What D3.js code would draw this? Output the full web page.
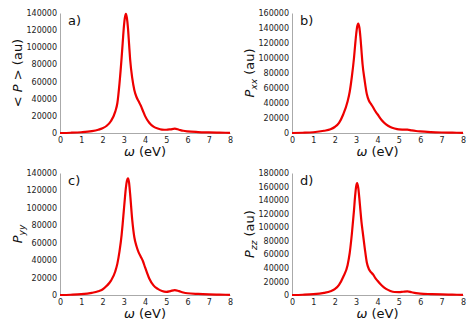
<!DOCTYPE html>
<html>
<head>
<meta charset="utf-8">
<script src="https://cdn.jsdelivr.net/npm/d3@7"></script>
<style>
	body { margin: 0; background: #fff; }
	text { font-family: "DejaVu Sans", sans-serif; }
</style>
</head>
<body>
<div id="chart"></div>
<script>

// photon energy grid (eV)
var omega = [0, 0.5, 1.0, 1.5, 1.8, 2.0, 2.2, 2.4, 2.6, 2.7, 2.8, 2.9, 2.95, 3.0, 3.05, 3.1, 3.15, 3.2, 3.25, 3.3,
	3.4, 3.5, 3.6, 3.7, 3.8, 3.9, 4.0, 4.2, 4.4, 4.6, 4.8, 5.0, 5.2, 5.4, 5.6, 5.8, 6.0, 6.5, 7.0, 7.5, 8.0];

var pAvg = [0, 300, 900, 2200, 3800, 5500, 8500, 14000, 25000, 35000, 58000, 88000, 105000, 122000, 134000, 139000, 134000, 122000, 104000, 86000,
	64000, 50000, 42000, 37000, 32000, 26000, 20000, 12000, 7500, 5200, 4000, 3800, 4300, 5000, 3800, 2600, 1900, 1100, 700, 400, 250];

var pXX = [0, 300, 1000, 3000, 5000, 8000, 13500, 25000, 42000, 55000, 75000, 100000, 116000, 131000, 142000, 146000, 141000, 128000, 110000, 92000,
	70000, 52000, 43000, 38500, 34000, 29000, 25000, 17000, 11500, 8000, 6000, 4800, 4600, 4500, 3500, 2700, 2100, 1200, 700, 400, 250];

var pYY = [0, 300, 900, 2500, 4300, 6300, 10500, 16500, 27000, 36000, 50000, 69000, 82000, 96000, 110000, 123000, 131000, 134000, 129000, 116000,
	86000, 66000, 56000, 49000, 44000, 39000, 32000, 19000, 11000, 7000, 4500, 3600, 4500, 5700, 4400, 2900, 2000, 1200, 700, 400, 250];

var pZZ = [0, 400, 1200, 3200, 5500, 8500, 15000, 27000, 44000, 62000, 90000, 125000, 145000, 160000, 165000, 158000, 143000, 125000, 108000, 95000,
	70000, 48000, 38000, 33500, 30000, 25000, 21000, 14000, 9000, 6000, 4400, 4200, 4800, 5300, 4000, 2800, 2000, 1300, 800, 500, 300];

var xTicks = [0, 1, 2, 3, 4, 5, 6, 7, 8];
var yMax = [140000, 160000, 140000, 180000];
var panelTags = ['a)', 'b)', 'c)', 'd)'];

window.onload = function(){

	var svg = d3.select('#chart').append('svg').attr('width', 474).attr('height', 331);

	var boxes = [
		{ left: 60, right: 230, top: 13, bottom: 133 },
		{ left: 292, right: 463, top: 13, bottom: 133 },
		{ left: 60, right: 230, top: 173, bottom: 295 },
		{ left: 292, right: 463, top: 173, bottom: 295 }
	];
	var series = [pAvg, pXX, pYY, pZZ];

	for(var i=0; i<4; i++){
		drawPanel(svg, boxes[i], series[i], yMax[i], panelTags[i], i);
	}
}

function drawPanel(svg, box, values, top, tag, idx){

	var x = d3.scaleLinear().domain([0, 8]).range([box.left, box.right]);
	var y = d3.scaleLinear().domain([0, top]).range([box.bottom, box.top]);

	var g = svg.append('g');

	var yAxis = d3.axisLeft(y).tickValues(d3.range(0, top + 1, 20000))
		.tickSize(0).tickPadding(3).tickFormat(d3.format('d'));
	var xAxis = d3.axisBottom(x).tickValues(xTicks).tickSize(0).tickPadding(4);

	var ya = g.append('g').attr('transform', 'translate(' + box.left + ',0)').call(yAxis);
	var xa = g.append('g').attr('transform', 'translate(0,' + box.bottom + ')').call(xAxis);

	[ya, xa].forEach(function(a){
		a.select('.domain').attr('stroke', '#aaa').attr('stroke-width', 1);
		a.selectAll('text').attr('fill', '#222').style('font-size', '8px')
			.style('font-family', '"DejaVu Sans", sans-serif');
	});

	var line = d3.line()
		.x(function(d, i){ return x(omega[i]); })
		.y(function(d){ return y(d); })
		.curve(d3.curveMonotoneX);

	g.append('path').datum(values)
		.attr('fill', 'none')
		.attr('stroke', '#ee0000')
		.attr('stroke-width', 2.2)
		.attr('stroke-linejoin', 'round')
		.attr('d', line);

	// panel tag
	g.append('text').attr('x', box.left + 8).attr('y', box.top + 12)
		.style('font-size', '13px').attr('fill', '#111').text(tag);

	// x label
	var xl = g.append('text')
		.attr('x', (box.left + box.right) / 2)
		.attr('y', box.bottom + 23)
		.attr('text-anchor', 'middle')
		.style('font-size', '13px').attr('fill', '#111');
	xl.append('tspan').style('font-style', 'italic').text('ω');
	xl.append('tspan').text(' (eV)');

	// y label
	var cy = (box.top + box.bottom) / 2;
	var lx = box.left - 38;
	var yl = g.append('text')
		.attr('transform', 'translate(' + lx + ',' + cy + ') rotate(-90)')
		.attr('text-anchor', 'middle')
		.style('font-size', '13px').attr('fill', '#111');

	if(idx == 0){
		yl.append('tspan').text('< ');
		yl.append('tspan').style('font-style', 'italic').text('P');
		yl.append('tspan').text(' >  (au)');
	} else {
		var sub = ['xx', 'yy', 'zz'][idx - 1];
		yl.append('tspan').style('font-style', 'italic').text('P');
		yl.append('tspan').style('font-style', 'italic').style('font-size', '9px')
			.attr('dy', 3).text(sub);
		if(idx != 2){
			yl.append('tspan').attr('dy', -3).text('  (au)');
		}
	}
}

</script>
</body>
</html>
